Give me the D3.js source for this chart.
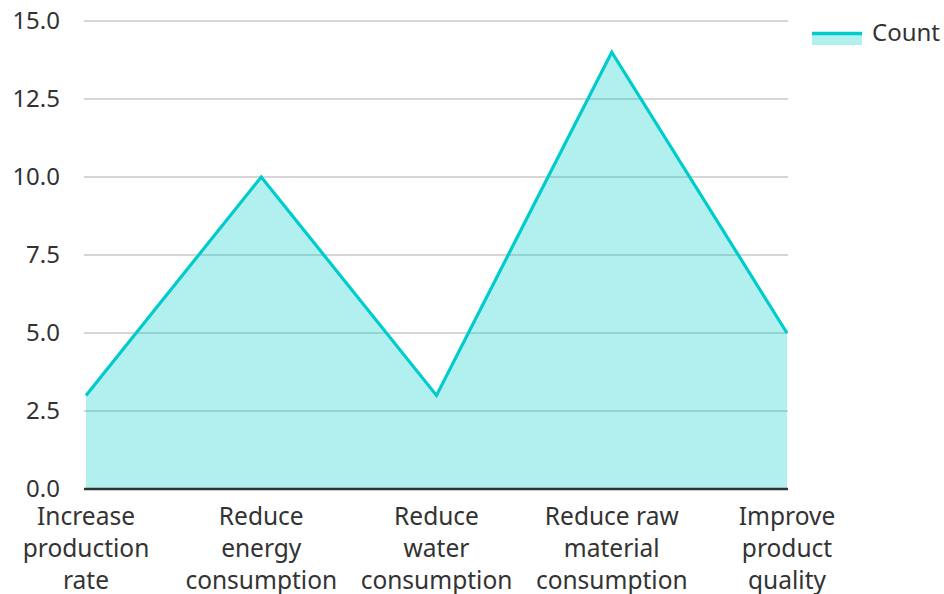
<!DOCTYPE html>
<html>
<head>
<meta charset="utf-8">
<script src="https://cdn.jsdelivr.net/npm/d3@7"></script>
<style>
  html, body { margin: 0; padding: 0; background: #fff; }
  svg { display: block; font-family: "Noto Sans", "Open Sans", sans-serif; }
</style>
</head>
<body>
<svg id="chart" width="944" height="594"></svg>
<script>
const categories = [
  "Increase production rate",
  "Reduce energy consumption",
  "Reduce water consumption",
  "Reduce raw material consumption",
  "Improve product quality"
];
const categoryLines = [
  ["Increase", "production", "rate"],
  ["Reduce", "energy", "consumption"],
  ["Reduce", "water", "consumption"],
  ["Reduce raw", "material", "consumption"],
  ["Improve", "product", "quality"]
];
const counts = [3, 10, 3, 14, 5];
const yTicks = [0, 2.5, 5, 7.5, 10, 12.5, 15];
const seriesName = "Count";

const lineColor = "rgb(0,204,204)";
const textColor = "#333";

const svg = d3.select("#chart");
const margin = { left: 86, right: 157, top: 21, bottom: 105 };
const W = 944, H = 594;

const x = d3.scalePoint().domain(categories).range([margin.left, W - margin.right]);
const y = d3.scaleLinear().domain([0, 15]).range([H - margin.bottom, margin.top]);

// horizontal grid
svg.append("g")
  .selectAll("line")
  .data(yTicks.filter(d => d > 0))
  .join("line")
  .attr("x1", margin.left - 2)
  .attr("x2", W - margin.right + 1)
  .attr("y1", d => y(d))
  .attr("y2", d => y(d))
  .attr("stroke", "#c8c8c8")
  .attr("stroke-width", 1.3);

// y tick labels
svg.append("g")
  .selectAll("text")
  .data(yTicks)
  .join("text")
  .attr("x", 60)
  .attr("y", d => y(d))
  .attr("dy", "0.35em")
  .attr("text-anchor", "end")
  .attr("fill", textColor)
  .style("font-size", "24px")
  .text(d => d.toFixed(1));

const data = categories.map((c, i) => ({ c, v: counts[i] }));

// filled area
svg.append("path")
  .datum(data)
  .attr("fill", lineColor)
  .attr("fill-opacity", 0.3)
  .attr("d", d3.area().x(d => x(d.c)).y0(y(0)).y1(d => y(d.v)));

// line
svg.append("path")
  .datum(data)
  .attr("fill", "none")
  .attr("stroke", lineColor)
  .attr("stroke-width", 3.2)
  .attr("stroke-linejoin", "miter")
  .attr("d", d3.line().x(d => x(d.c)).y(d => y(d.v)));

// baseline axis
svg.append("line")
  .attr("x1", margin.left - 2)
  .attr("x2", W - margin.right + 1)
  .attr("y1", y(0))
  .attr("y2", y(0))
  .attr("stroke", "#333")
  .attr("stroke-width", 2.5);

// x category labels, wrapped on three lines
const xl = svg.append("g")
  .selectAll("text")
  .data(categories)
  .join("text")
  .attr("x", d => x(d))
  .attr("y", 525)
  .attr("text-anchor", "middle")
  .attr("fill", textColor)
  .style("font-size", "24.5px");
xl.each(function(d, i) {
  const t = d3.select(this);
  categoryLines[i].forEach((ln, j) => {
    t.append("tspan").attr("x", x(d)).attr("y", 525 + j * 32).text(ln);
  });
});

// legend
const lg = svg.append("g");
lg.append("rect")
  .attr("x", 812).attr("y", 33.5).attr("width", 50).attr("height", 11.5)
  .attr("fill", lineColor).attr("fill-opacity", 0.3);
lg.append("line")
  .attr("x1", 812).attr("x2", 862).attr("y1", 33.5).attr("y2", 33.5)
  .attr("stroke", lineColor).attr("stroke-width", 3.5);
lg.append("text")
  .attr("x", 872).attr("y", 33)
  .attr("dy", "0.35em")
  .attr("fill", textColor)
  .style("font-size", "24px")
  .text(seriesName);
</script>
</body>
</html>
